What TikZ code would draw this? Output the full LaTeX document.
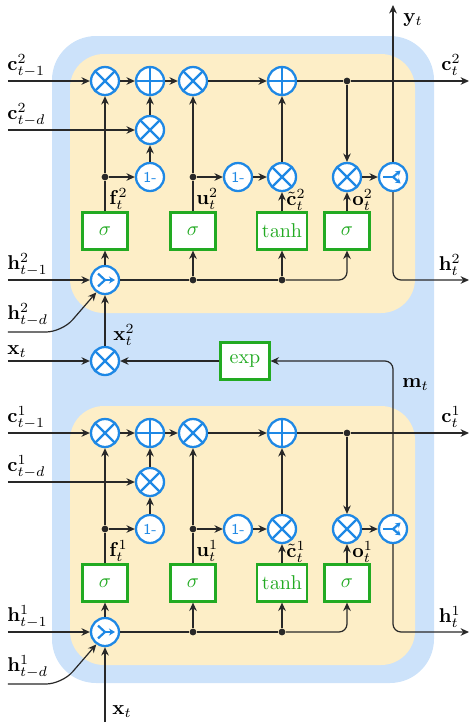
\documentclass[tikz,border=0pt]{standalone}
\usetikzlibrary{arrows.meta}
\pgfdeclarelayer{background}
\pgfsetlayers{background,main}
\definecolor{bgblue}{RGB}{204,226,250}
\definecolor{bgyellow}{RGB}{253,238,199}
\definecolor{opblue}{RGB}{30,136,229}
\definecolor{gatgreen}{RGB}{34,170,34}
\definecolor{wire}{RGB}{40,40,40}
\tikzset{
 op/.style={circle, draw=opblue, line width=1.15pt, fill=white, minimum size=14pt, inner sep=0pt},
 mult/.style={op, path picture={\draw[opblue,line width=1.15pt] (path picture bounding box.north west)--(path picture bounding box.south east) (path picture bounding box.south west)--(path picture bounding box.north east);}},
 add/.style={op, path picture={\draw[opblue,line width=1.15pt] (path picture bounding box.north)--(path picture bounding box.south) (path picture bounding box.west)--(path picture bounding box.east);}},
 onem/.style={op, font=\sffamily\fontsize{7.5}{8}\selectfont, text=opblue},
 catop/.style={op, path picture={\begin{scope}[shift={(path picture bounding box.center)}]
   \draw[opblue,line width=1.1pt] (-3.5pt,3.2pt)--(0pt,0pt)--(-3.5pt,-3.2pt);
   \draw[opblue,line width=1.1pt,-{Stealth[length=3pt,width=3.5pt]}] (0pt,0pt)--(5pt,0pt);
   \end{scope}}},
 splitop/.style={op, path picture={\begin{scope}[shift={(path picture bounding box.center)}]
   \draw[opblue,line width=1.1pt] (-5pt,0pt)--(0pt,0pt);
   \draw[opblue,line width=1.1pt,-{Stealth[length=2.5pt,width=3pt]}] (0pt,0pt)--(3.8pt,3.2pt);
   \draw[opblue,line width=1.1pt,-{Stealth[length=2.5pt,width=3pt]}] (0pt,0pt)--(3.8pt,-3.2pt);
   \end{scope}}},
 gate/.style={draw=gatgreen, line width=1.1pt, fill=white, text=gatgreen, minimum width=22.5pt, minimum height=18.5pt, inner sep=0pt},
 dot/.style={circle, fill=wire, inner sep=0pt, minimum size=3.4pt},
 arr/.style={draw=wire, line width=0.6pt, -{Stealth[length=4.2pt,width=3.8pt]}},
 ln/.style={draw=wire, line width=0.6pt},
 lbl/.style={inner sep=0.5pt, text=black},
}
\begin{document}
\begin{tikzpicture}[x=0.5pt, y=-0.5pt]
\useasboundingbox (0,0) rectangle (474,725);
\foreach \b/\dy in {2/0, 1/352}{
\begin{scope}[shift={(0,\dy)}]
 \node[mult] (m1\b) at (105,81) {};
 \node[add] (a1\b) at (150,81) {};
 \node[mult] (m2\b) at (193,81) {};
 \node[add] (a2\b) at (282,81) {};
 \node[dot] (dc\b) at (347,81) {};
 \node[mult] (m3\b) at (150,130) {};
 \node[onem] (o1\b) at (150,177) {1-};
 \node[onem] (o2\b) at (238,177) {1-};
 \node[mult] (m4\b) at (282,177) {};
 \node[mult] (m5\b) at (347,177) {};
 \node[splitop] (out\b) at (393,177) {};
 \node[dot] (df\b) at (105,177) {};
 \node[dot] (du\b) at (193,177) {};
 \node[gate] (sf\b) at (105,231) {$\sigma$};
 \node[gate] (su\b) at (193,231) {$\sigma$};
 \node[gate, minimum width=25pt] (th\b) at (282,231) {$\tanh$};
 \node[gate] (so\b) at (347,231) {$\sigma$};
 \node[catop] (cat\b) at (105,280) {};
 \node[dot] (dh1\b) at (193,280) {};
 \node[dot] (dh2\b) at (282,280) {};
 \coordinate (cin\b) at (8,81);
 \coordinate (cdin\b) at (8,130);
 \coordinate (hin\b) at (8,280);
 \coordinate (hdin\b) at (8,332);
 \coordinate (hdbend\b) at (62,332);
 \coordinate (cout\b) at (469,81);
 \coordinate (hout\b) at (469,280);
 \draw[arr] (cin\b) -- (m1\b);
 \draw[arr] (m1\b) -- (a1\b);
 \draw[arr] (a1\b) -- (m2\b);
 \draw[arr] (m2\b) -- (a2\b);
 \draw[ln] (a2\b) -- (dc\b);
 \draw[arr] (dc\b) -- (cout\b);
 \draw[arr] (cdin\b) -- (m3\b);
 \draw[arr] (m3\b) -- (a1\b);
 \draw[arr] (o1\b) -- (m3\b);
 \draw[ln] (sf\b) -- (df\b);
 \draw[arr] (df\b) -- (m1\b);
 \draw[arr] (df\b) -- (o1\b);
 \draw[ln] (su\b) -- (du\b);
 \draw[arr] (du\b) -- (m2\b);
 \draw[arr] (du\b) -- (o2\b);
 \draw[arr] (o2\b) -- (m4\b);
 \draw[arr] (th\b) -- (m4\b);
 \draw[arr] (m4\b) -- (a2\b);
 \draw[arr] (dc\b) -- (m5\b);
 \draw[arr] (so\b) -- (m5\b);
 \draw[arr] (m5\b) -- (out\b);
 \draw[arr, rounded corners=4pt] (out\b) |- (hout\b);
 \draw[arr] (hin\b) -- (cat\b);
 \draw[arr, rounded corners=8pt] (hdin\b) -- (hdbend\b) -- (cat\b.235);
 \draw[arr] (cat\b) -- (sf\b);
 \draw[ln] (cat\b) -- (dh1\b) -- (dh2\b);
 \draw[arr, rounded corners=4pt] (dh2\b) -| (so\b);
 \draw[arr] (dh1\b) -- (su\b);
 \draw[arr] (dh2\b) -- (th\b);
 \node[lbl, anchor=south west] (Lcin\b) at (6,79) {$\mathbf{c}_{t-1}^{\b}$};
 \node[lbl, anchor=south west] (Lcd\b) at (6,128) {$\mathbf{c}_{t-d}^{\b}$};
 \node[lbl, anchor=south west] (Lhin\b) at (6,278) {$\mathbf{h}_{t-1}^{\b}$};
 \node[lbl, anchor=south west] (Lhd\b) at (6,328) {$\mathbf{h}_{t-d}^{\b}$};
 \node[lbl, anchor=south east] (Lcout\b) at (462,77) {$\mathbf{c}_{t}^{\b}$};
 \node[lbl, anchor=south east] (Lhout\b) at (462,277) {$\mathbf{h}_{t}^{\b}$};
 \node[lbl, anchor=west] (Lf\b) at (108,199) {$\mathbf{f}_{t}^{\b}$};
 \node[lbl, anchor=west] (Lu\b) at (195,199) {$\mathbf{u}_{t}^{\b}$};
 \node[lbl, anchor=west] (Lc\b) at (285,200) {$\tilde{\mathbf{c}}_{t}^{\b}$};
 \node[lbl, anchor=west] (Lo\b) at (351,200) {$\mathbf{o}_{t}^{\b}$};
\end{scope}
}
\node[mult] (mx) at (105,361) {};
\node[gate, minimum width=24.5pt] (ex) at (245,361) {$\exp$};
\coordinate (xin) at (8,361);
\coordinate (yout) at (393,5);
\coordinate (xbot) at (105,722);
\draw[arr] (xin) -- (mx);
\draw[arr] (ex) -- (mx);
\draw[arr] (mx) -- (cat2);
\draw[arr] (out2) -- (yout);
\draw[arr, rounded corners=4pt] (out1) |- (ex);
\draw[arr] (xbot) -- (cat1);
\node[lbl, anchor=west] (Lx2) at (112,335) {$\mathbf{x}_{t}^{2}$};
\node[lbl, anchor=south west] (Lxin) at (6,359) {$\mathbf{x}_{t}$};
\node[lbl, anchor=west] (Ly) at (402,20) {$\mathbf{y}_{t}$};
\node[lbl, anchor=west] (Lm) at (401,385) {$\mathbf{m}_{t}$};
\node[lbl, anchor=west] (Lxb) at (111,712) {$\mathbf{x}_{t}$};
\begin{pgfonlayer}{background}
 \fill[bgblue, rounded corners=22pt] (52,36) rectangle (434,683);
 \fill[bgyellow, rounded corners=17pt] (70,54) rectangle (415,313);
 \fill[bgyellow, rounded corners=17pt] (70,406) rectangle (415,665);
\end{pgfonlayer}
\end{tikzpicture}
\end{document}
